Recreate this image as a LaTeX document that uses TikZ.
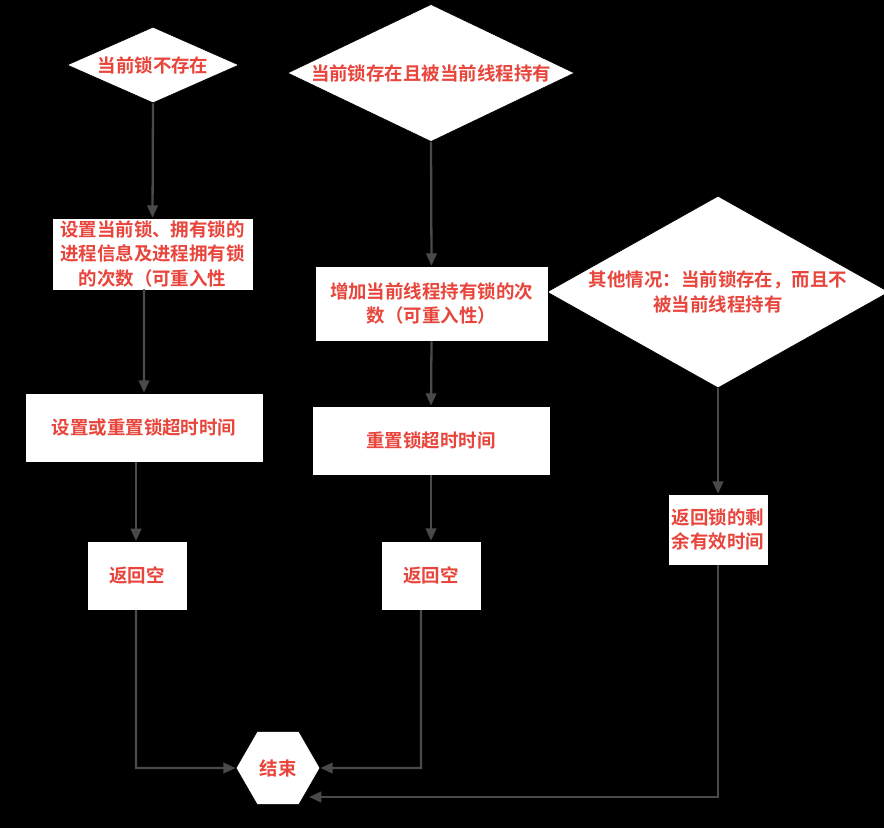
\documentclass[tikz,border=0pt]{standalone}
\usepackage{fontspec}
\newfontfamily\cjk{Noto Sans CJK SC Bold}
\usetikzlibrary{shapes.geometric,arrows.meta}
\definecolor{txt}{HTML}{E8453C}
\definecolor{ln}{HTML}{4A4A4A}
\begin{document}
\begin{tikzpicture}[x=0.02cm,y=-0.02cm,
  lab/.style={font=\cjk\fontsize{10.5}{14}\selectfont,text=txt,align=center},
  boxn/.style={draw=black,fill=white,lab,inner sep=0pt},
  dia/.style={diamond,draw=black,fill=white,lab,inner sep=0pt,aspect=2},
  conn/.style={draw=ln,line width=1.3pt,-{Triangle[length=7pt,width=6pt]}}]
\fill[black] (0,0) rectangle (884,828);
\useasboundingbox (0,0) rectangle (884,828);
\node[dia,minimum width=172*0.02cm,minimum height=76*0.02cm] (d1) at (153,65) {当前锁不存在};
\node[dia,minimum width=287*0.02cm,minimum height=100*0.02cm] (d2) at (431,73) {当前锁存在且被当前线程持有};
\node[dia,minimum width=281*0.02cm,minimum height=192*0.02cm] (d3) at (718,292) {其他情况：当前锁存在，而且不\\被当前线程持有};
\node[boxn,minimum width=201*0.02cm,minimum height=72*0.02cm] (b1) at (152.5,254) {设置当前锁、拥有锁的\\进程信息及进程拥有锁\\的次数（可重入性};
\node[boxn,minimum width=238*0.02cm,minimum height=69*0.02cm] (b2) at (144,427.5) {设置或重置锁超时时间};
\node[boxn,minimum width=100*0.02cm,minimum height=69*0.02cm] (b3) at (137,575.5) {返回空};
\node[boxn,minimum width=233*0.02cm,minimum height=75*0.02cm] (b4) at (431.5,303.5) {增加当前线程持有锁的次\\数（可重入性）};
\node[boxn,minimum width=238*0.02cm,minimum height=69*0.02cm] (b5) at (431,440.5) {重置锁超时时间};
\node[boxn,minimum width=100*0.02cm,minimum height=69*0.02cm] (b6) at (431,575.5) {返回空};
\node[boxn,minimum width=100*0.02cm,minimum height=71*0.02cm] (b7) at (718,529.5) {返回锁的剩\\余有效时间};
\node[regular polygon,regular polygon sides=6,draw=black,fill=white,lab,minimum size=84*0.02cm,inner sep=0pt] (end) at (278,768) {结束};
\draw[conn] (d1.south) -- (b1.north);
\draw[conn] (145,290) -- (b1.south -| b2.north) -- (b2.north);
\draw[conn] (136,462) -- (136,541);
\draw[conn] (136,610) -- (136,768) -- (end.west);
\draw[conn] (d2.south) -- (b4.north);
\draw[conn] (b4.south) -- (b5.north);
\draw[conn] (b5.south) -- (b6.north);
\draw[conn] (421,610) -- (421,768) -- (end.east);
\draw[conn] (d3.south) -- (b7.north);
\coordinate (c7) at (718,797);
\draw[conn] (b7.south) -- (c7) -- (309,797);
\end{tikzpicture}
\end{document}
